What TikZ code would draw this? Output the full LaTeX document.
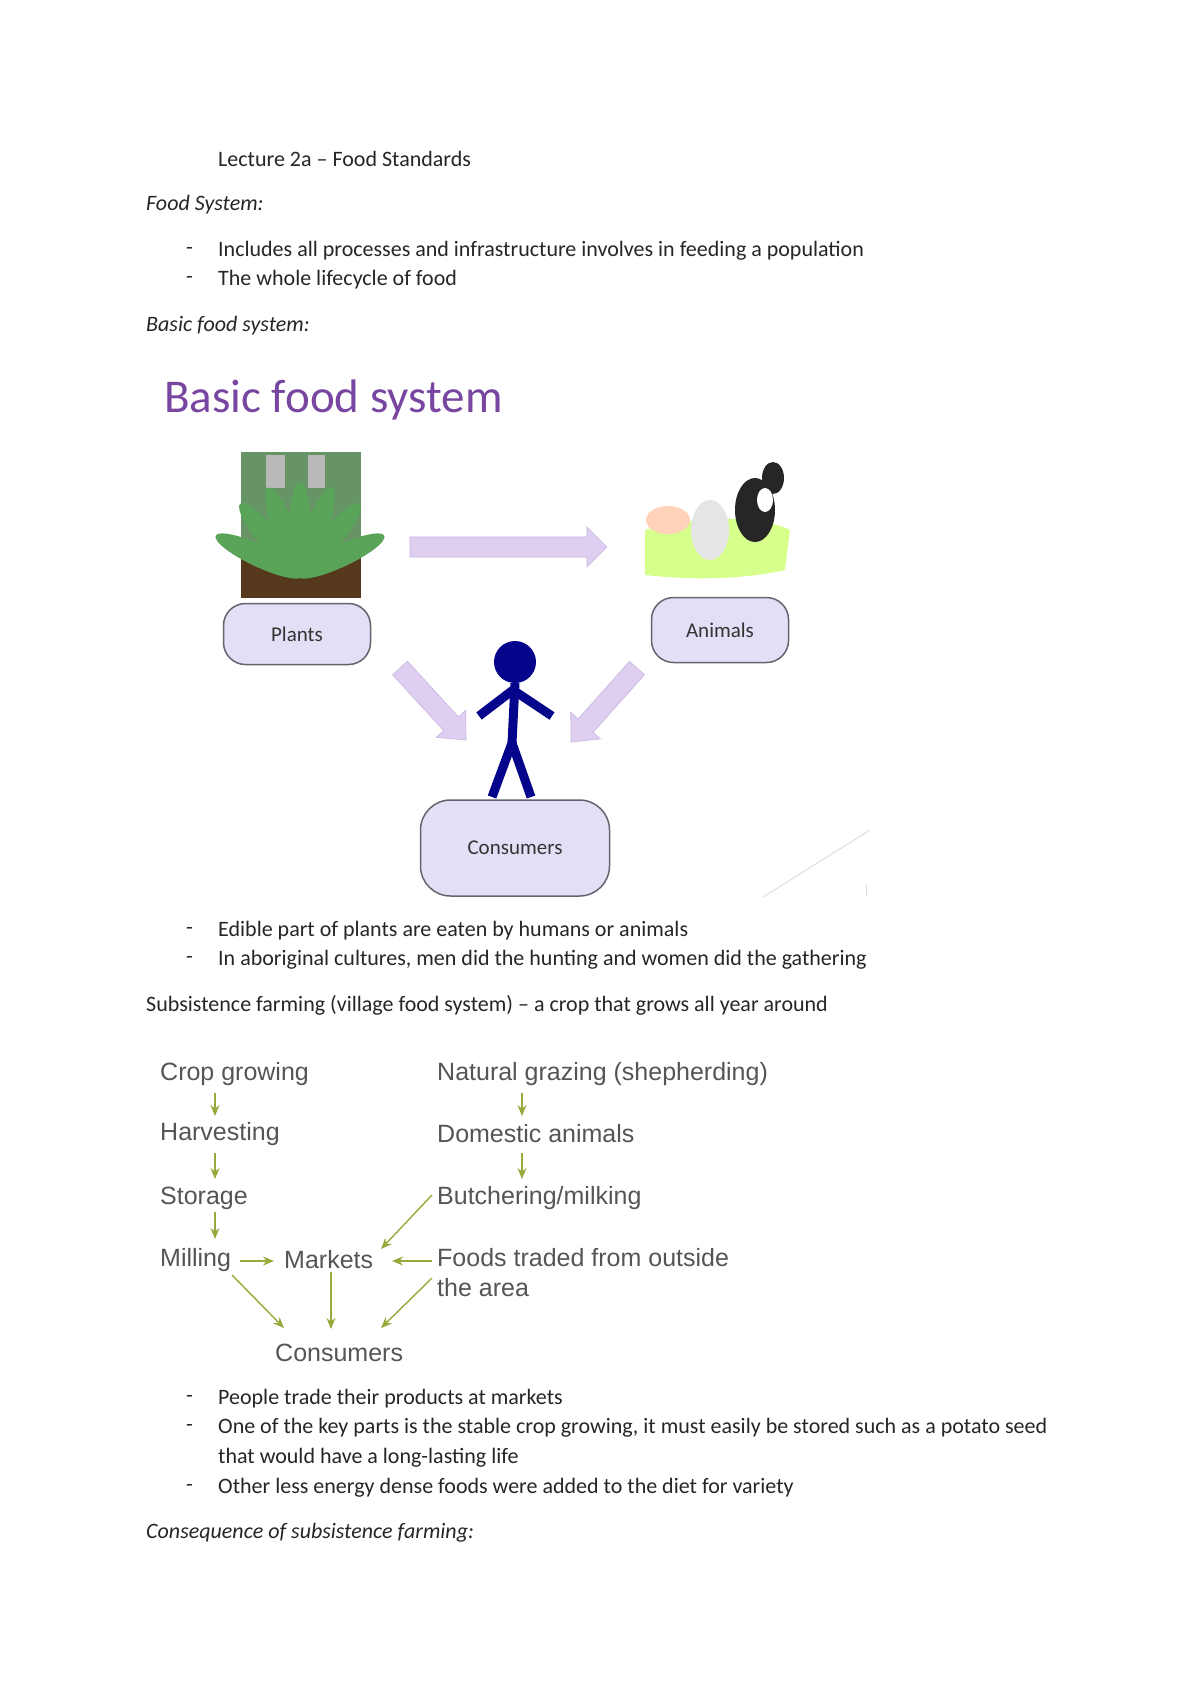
\documentclass[tikz,border=0pt]{standalone}
\usepackage{fontspec}
\setmainfont{Carlito}
\newfontfamily\arialf{Liberation Sans}
\usetikzlibrary{arrows.meta}
\definecolor{lav}{RGB}{222,206,240}
\definecolor{lavline}{RGB}{200,180,225}
\definecolor{boxfill}{RGB}{226,224,246}
\definecolor{boxline}{RGB}{100,100,110}
\definecolor{purp}{RGB}{120,70,160}
\definecolor{navy}{RGB}{5,5,140}
\definecolor{olive}{RGB}{150,170,60}
\definecolor{flowtext}{RGB}{85,85,85}
\begin{document}
\begin{tikzpicture}[x=1pt,y=-1pt,
  body/.style={anchor=west,inner sep=0,font=\fontsize{22}{26}\selectfont,text=black!85},
  ital/.style={body,font=\fontsize{22}{26}\selectfont\itshape},
  rbox/.style={draw=boxline,line width=1.5pt,fill=boxfill,rounded corners=22pt,font=\fontsize{21}{25}\selectfont,text=black!80},
  flow/.style={anchor=west,inner sep=0,font=\arialf\fontsize{25}{30}\selectfont,text=flowtext},
  farr/.style={olive,line width=1.4pt,-{Stealth[length=11pt,width=9pt]}},
  fat/.style={fill=lav,draw=lavline,line width=0.6pt},
  fig/.style={navy,line width=9pt}]
\useasboundingbox (0,0) rectangle (1200,1698);
\fill[white] (0,0) rectangle (1200,1698);
% text
\node[body] (t1) at (218,159) {Lecture 2a -- Food Standards};
\node[ital] (t2) at (146,205) {Food System:};
\node[body] (d1) at (186,251) {-};
\node[body] (b1) at (218,251) {Includes all processes and infrastructure involves in feeding a population};
\node[body] (d2) at (186,280) {-};
\node[body] (b2) at (218,280) {The whole lifecycle of food};
\node[ital] (t3) at (146,326) {Basic food system:};
% basic food system
\node[anchor=west,inner sep=0,text=purp,font=\fontsize{47}{52}\selectfont] (title) at (164,400) {Basic food system};
% plant photo
\fill[green!30!black!60] (241,452) rectangle (361,598);
\fill[black!55!brown] (241,548) rectangle (361,598);
\fill[gray!55] (266,455) rectangle (285,488);
\fill[gray!55] (308,455) rectangle (325,488);
\foreach \a in {-65,-40,-20,0,20,40,65}{
  \fill[green!45!black!65, rotate around={\a:(300,575)}] (300,530) ellipse (11 and 48);}
\node[rbox,minimum width=147pt,minimum height=61pt] (plants) at (297,634) {Plants};
% animals picture
\fill[green!35!yellow!45] (645,530) .. controls (700,515) and (760,515) .. (790,530) -- (785,570) .. controls (740,580) and (690,580) .. (645,575) -- cycle;
\fill[pink!60!orange!50] (668,520) ellipse (22 and 14);
\fill[gray!20] (710,530) ellipse (19 and 30);
\fill[black!85] (755,510) ellipse (20 and 32);
\fill[black!85] (773,478) ellipse (11 and 16);
\fill[white] (765,500) ellipse (8 and 12);
\node[rbox,minimum width=137pt,minimum height=65pt] (animals) at (720,630) {Animals};
% fat arrows
\draw[fat] (410,537)--(587,537)--(587,527)--(607,547)--(587,567)--(587,557)--(410,557)--cycle;
\draw[fat] (392.6,674.8)--(443.7,730.6)--(436.4,737.3)--(466,740)--(465.8,710.3)--(458.5,717.0)--(407.4,661.2)--cycle;
\draw[fat] (629.5,661.4)--(578.1,719.0)--(570.7,712.3)--(571,742)--(600.5,738.9)--(593.1,732.3)--(644.5,674.7)--cycle;
% stick figure
\node[circle,fill=navy,minimum size=42pt,inner sep=0] (head) at (515,662) {};
\coordinate (neck) at (515,683);
\coordinate (hip) at (512,743);
\draw[fig] (neck) -- (hip);
\draw[fig,line join=round] (479,716) -- (513,690) -- (552,716);
\draw[fig] (492,797) -- (hip) -- (531,797);
\node[rbox,minimum width=189pt,minimum height=96pt,rounded corners=30pt] (cons) at (515,848) {Consumers};
\draw[gray!25,line width=1pt] (763,897) -- (870,830);
\draw[gray!25,line width=1pt] (866,884) -- (866,897);
% bullets
\node[body] at (186,931) {-};
\node[body] at (218,931) {Edible part of plants are eaten by humans or animals};
\node[body] at (186,960) {-};
\node[body] at (218,960) {In aboriginal cultures, men did the hunting and women did the gathering};
\node[body] at (146,1005) {Subsistence farming (village food system) -- a crop that grows all year around};
% flow
\node[flow] (crop) at (160,1074) {Crop growing};
\node[flow] (harv) at (160,1134) {Harvesting};
\node[flow] (stor) at (160,1198) {Storage};
\node[flow] (mill) at (160,1260) {Milling};
\node[flow] (mark) at (284,1260) {Markets};
\node[flow] (graz) at (437,1074) {Natural grazing (shepherding)};
\node[flow] (dom) at (437,1134) {Domestic animals};
\node[flow] (butch) at (437,1198) {Butchering/milking};
\node[flow,align=left,font=\arialf\fontsize{25}{30}\selectfont,anchor=north west] (foods) at (437,1248) {Foods traded from outside\\the area};
\node[flow] (fcons) at (275,1353) {Consumers};
\draw[farr] (215,1093) -- (215,1116);
\draw[farr] (215,1153) -- (215,1179);
\draw[farr] (215,1212) -- (215,1239);
\draw[farr] (522,1093) -- (522,1116);
\draw[farr] (522,1153) -- (522,1179);
\draw[farr] (240,1261) -- (274,1261);
\draw[farr] (432,1261) -- (392,1261);
\draw[farr] (432,1195) -- (381,1249);
\draw[farr] (232,1275) -- (284,1328);
\draw[farr] (331,1272) -- (331,1329);
\draw[farr] (432,1278) -- (381,1328);
\node[body] at (186,1399) {-};
\node[body] at (218,1399) {People trade their products at markets};
\node[body] at (186,1428) {-};
\node[body] at (218,1428) {One of the key parts is the stable crop growing, it must easily be stored such as a potato seed};
\node[body] at (218,1458) {that would have a long-lasting life};
\node[body] at (186,1488) {-};
\node[body] at (218,1488) {Other less energy dense foods were added to the diet for variety};
\node[ital] at (146,1533) {Consequence of subsistence farming:};
\end{tikzpicture}
\end{document}
